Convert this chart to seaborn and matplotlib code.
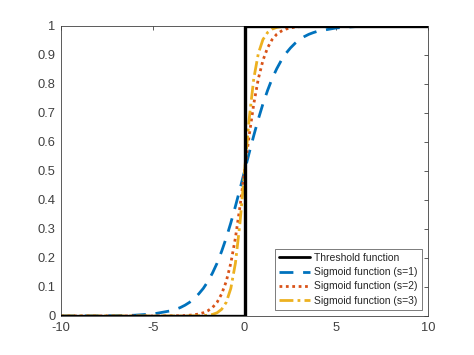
import matplotlib
matplotlib.use("Agg")
import matplotlib.pyplot as plt
import seaborn as sns

x_vals = [-10, -9, -8, -7, -6, -5,
          -4, -3.75, -3.5, -3.25, -3, -2.75, -2.5, -2.25, -2, -1.75, -1.5, -1.25,
          -1, -0.75, -0.5, -0.25, 0, 0.25, 0.5, 0.75, 1, 1.25, 1.5, 1.75,
          2, 2.25, 2.5, 2.75, 3, 3.25, 3.5, 3.75, 4,
          5, 6, 7, 8, 9, 10]

sig_s1 = [0.0, 0.0001, 0.0003, 0.0009, 0.0025, 0.0067,
          0.018, 0.023, 0.029, 0.037, 0.047, 0.060, 0.076, 0.095, 0.119, 0.148, 0.182, 0.223,
          0.269, 0.321, 0.378, 0.438, 0.5, 0.562, 0.622, 0.679, 0.731, 0.777, 0.818, 0.852,
          0.881, 0.905, 0.924, 0.940, 0.953, 0.963, 0.971, 0.977, 0.982,
          0.993, 0.9975, 0.9991, 0.9997, 0.9999, 1.0]

sig_s2 = [0.0, 0.0, 0.0, 0.0, 0.0, 0.0,
          0.0003, 0.0006, 0.0009, 0.0015, 0.0025, 0.0041, 0.0067, 0.011, 0.018, 0.029, 0.047, 0.076,
          0.119, 0.182, 0.269, 0.378, 0.5, 0.622, 0.731, 0.818, 0.881, 0.924, 0.953, 0.971,
          0.982, 0.989, 0.9933, 0.9959, 0.9975, 0.9985, 0.9991, 0.9994, 0.9997,
          1.0, 1.0, 1.0, 1.0, 1.0, 1.0]

sig_s3 = [0.0, 0.0, 0.0, 0.0, 0.0, 0.0,
          0.0, 0.0, 0.00003, 0.00006, 0.0001, 0.0003, 0.0006, 0.0012, 0.0025, 0.0052, 0.011, 0.023,
          0.047, 0.095, 0.182, 0.321, 0.5, 0.679, 0.818, 0.905, 0.953, 0.977, 0.989, 0.9948,
          0.9975, 0.9988, 0.9994, 0.9997, 0.9999, 1.0, 1.0, 1.0, 1.0,
          1.0, 1.0, 1.0, 1.0, 1.0, 1.0]

thresh_x = [-10, 0, 0, 10]
thresh_y = [0, 0, 1, 1]

labels = ["Threshold function", "Sigmoid function (s=1)",
          "Sigmoid function (s=2)", "Sigmoid function (s=3)"]

sns.set_style("white")
plt.rcParams["font.family"] = ["Liberation Sans", "DejaVu Sans"]

fig = plt.figure(figsize=(4.74, 3.55), dpi=100)
ax = fig.add_axes([0.129, 0.110, 0.774, 0.817])

sns.lineplot(x=thresh_x, y=thresh_y, ax=ax, color="black", lw=2.4,
             label=labels[0], sort=False, estimator=None)
sns.lineplot(x=x_vals, y=sig_s1, ax=ax, color="#0072BD", lw=2.0,
             label=labels[1], sort=False, estimator=None)
sns.lineplot(x=x_vals, y=sig_s2, ax=ax, color="#D95319", lw=2.0,
             label=labels[2], sort=False, estimator=None)
sns.lineplot(x=x_vals, y=sig_s3, ax=ax, color="#EDB120", lw=2.0,
             label=labels[3], sort=False, estimator=None)

lines = ax.get_lines()
lines[1].set_dashes([5, 3.5])
lines[2].set_dashes([1, 1.3])
lines[3].set_dashes([5, 1.5, 1, 1.5])
# threshold line drawn on top, like the reference
lines[0].set_zorder(5)

ax.set_xlim(-10, 10)
ax.set_ylim(0, 1)
ax.set_xticks([-10, -5, 0, 5, 10])
ax.set_xticklabels(["-10", "-5", "0", "5", "10"])
ax.set_yticks([i / 10 for i in range(11)])
ax.set_yticklabels(["0"] + [f"0.{i}" for i in range(1, 10)] + ["1"])
ax.tick_params(direction="in", length=3, width=0.6, labelsize=9.3,
               colors="#404040", top=True, right=True, pad=4)
for sp in ax.spines.values():
    sp.set_color("#404040")
    sp.set_linewidth(0.6)

leg = ax.legend(loc="lower right", fontsize=7.5, frameon=True, fancybox=False,
                borderpad=0.4, labelspacing=0.4, handlelength=3.0,
                handletextpad=0.35, borderaxespad=0.6)
leg.get_frame().set_edgecolor("#404040")
leg.get_frame().set_linewidth(0.6)
for h in leg.get_lines():
    h.set_linewidth(2.0)

fig.savefig("out.png", dpi=100)
